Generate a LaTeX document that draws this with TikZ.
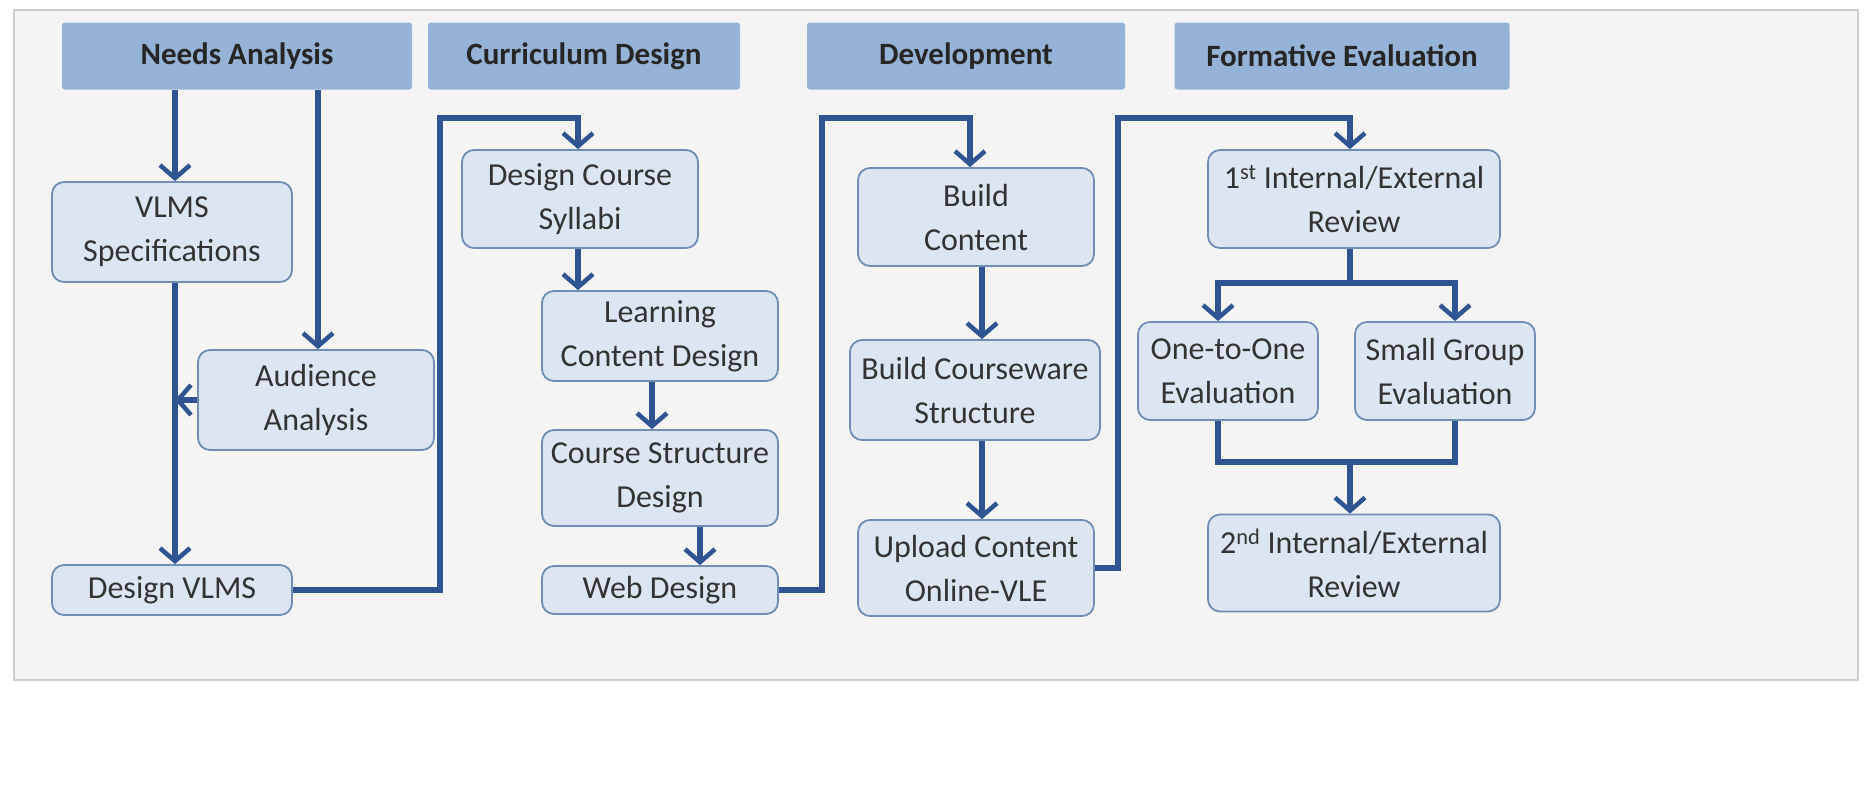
\documentclass[tikz,border=0pt]{standalone}
\usepackage{fontspec}
\setmainfont{Carlito}
\usetikzlibrary{arrows.meta}
\definecolor{hdr}{HTML}{95B3D7}
\definecolor{bx}{HTML}{DCE6F2}
\definecolor{bxl}{HTML}{6F8DB5}
\definecolor{ln}{HTML}{2E5591}
\definecolor{bg}{HTML}{F4F4F4}
\tikzset{
  hdrbox/.style={fill=hdr,rounded corners=3pt,inner sep=0pt,font=\bfseries\fontsize{31}{36}\selectfont,text=black!85},
  pbox/.style={fill=bx,draw=bxl,line width=1.8pt,rounded corners=12pt,inner sep=0pt,align=center,font=\fontsize{32}{44}\selectfont,text=black!80},
  con/.style={draw=ln,line width=5.5pt,-{Straight Barb[length=13pt,width=30pt,line width=4.5pt]}},
  conn/.style={draw=ln,line width=5.5pt},
}
\begin{document}
\begin{tikzpicture}[x=1pt,y=-1pt]
\useasboundingbox (0,0) rectangle (1870,807);
\fill[white] (0,0) rectangle (1870,807);
\draw[fill=bg,draw=black!20,line width=1.5pt] (14,10) rectangle (1858,680);
% headers
\node[hdrbox,minimum width=350,minimum height=67] (h1) at (237,56) {Needs Analysis};
\node[hdrbox,minimum width=312,minimum height=67] (h2) at (584,56) {Curriculum Design};
\node[hdrbox,minimum width=318,minimum height=67] (h3) at (966,56) {Development};
\node[hdrbox,minimum width=335,minimum height=67] (h4) at (1342,56) {Formative Evaluation};
% boxes
\node[pbox,minimum width=240,minimum height=100] (vs) at (172,232) {VLMS\\Specifications};
\node[pbox,minimum width=236,minimum height=100] (aa) at (316,400) {Audience\\Analysis};
\node[pbox,minimum width=240,minimum height=50] (dv) at (172,590) {Design VLMS};
\node[pbox,minimum width=236,minimum height=98] (ds) at (580,199) {Design Course\\Syllabi};
\node[pbox,minimum width=236,minimum height=90] (lc) at (660,336) {Learning\\Content Design};
\node[pbox,minimum width=236,minimum height=96] (cs) at (660,478) {Course Structure\\Design};
\node[pbox,minimum width=236,minimum height=48] (wd) at (660,590) {Web Design};
\node[pbox,minimum width=236,minimum height=98] (bc) at (976,217) {Build\\Content};
\node[pbox,minimum width=250,minimum height=100] (bs) at (975,390) {Build Courseware\\Structure};
\node[pbox,minimum width=236,minimum height=96] (uc) at (976,568) {Upload Content\\Online-VLE};
\node[pbox,minimum width=292,minimum height=98] (r1) at (1354,199) {1\textsuperscript{st} Internal/External\\Review};
\node[pbox,minimum width=180,minimum height=98] (oo) at (1228,371) {One-to-One\\Evaluation};
\node[pbox,minimum width=180,minimum height=98] (sg) at (1445,371) {Small Group\\Evaluation};
\node[pbox,minimum width=292,minimum height=97] (r2) at (1354,563) {2\textsuperscript{nd} Internal/External\\Review};
% connectors
\coordinate (a1) at (175,90); \coordinate (a2) at (318,90);
\draw[con] (a1) -- (vs.north -| a1);
\draw[con] (a2) -- (aa.north -| a2);
\draw[con] (vs.south -| a1) -- (dv.north -| a1);
\draw[con] (aa.west) -- (175,400);
\draw[con] (dv.east) -- (440,590) -- (440,118) -- (578,118) -- (ds.north -| 578,0);
\draw[con] (ds.south -| 578,0) -- (lc.north -| 578,0);
\draw[con] (lc.south -| 652,0) -- (cs.north -| 652,0);
\draw[con] (cs.south -| 700,0) -- (wd.north -| 700,0);
\draw[con] (wd.east) -- (822,590) -- (822,118) -- (970,118) -- (bc.north -| 970,0);
\draw[con] (bc.south -| 982,0) -- (bs.north -| 982,0);
\draw[con] (bs.south -| 982,0) -- (uc.north -| 982,0);
\draw[con] (uc.east) -- (1118,568) -- (1118,118) -- (1350,118) -- (r1.north -| 1350,0);
\draw[conn] (r1.south -| 1350,0) -- (1350,283);
\draw[con] (1218,283) -- (oo.north -| 1218,0);
\draw[con] (1455,283) -- (sg.north -| 1455,0);
\draw[conn] (1215,283) -- (1458,283);
\draw[conn] (oo.south -| 1218,0) -- (1218,462) -- (1455,462) -- (sg.south -| 1455,0);
\draw[con] (1350,462) -- (r2.north -| 1350,0);
\end{tikzpicture}
\end{document}
